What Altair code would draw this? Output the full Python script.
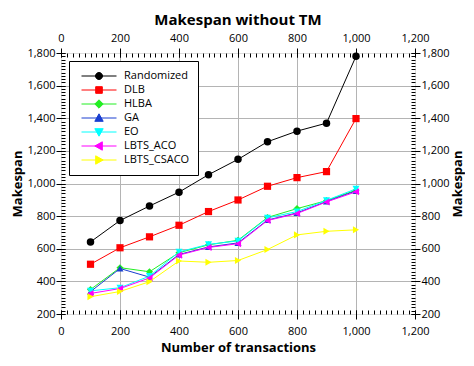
import altair as alt
import pandas as pd

# ---------------- data ----------------
transactions = [100, 200, 300, 400, 500, 600, 700, 800, 900, 1000]
series_names = ["Randomized", "DLB", "HLBA", "GA", "EO", "LBTS_ACO", "LBTS_CSACO"]
randomized = [642, 773, 862, 947, 1054, 1148, 1256, 1321, 1370, 1780]
dlb = [505, 606, 673, 744, 828, 899, 983, 1036, 1073, 1398]
hlba = [350, 484, 459, 576, 624, 652, 792, 846, 895, 959]
ga = [337, 479, 426, 565, 611, 636, 776, 820, 890, 955]
eo = [342, 361, 432, 581, 627, 648, 789, 828, 897, 967]
lbts_aco = [326, 356, 421, 561, 608, 631, 773, 816, 887, 949]
lbts_csaco = [306, 338, 398, 525, 517, 528, 595, 685, 707, 716]
values = [randomized, dlb, hlba, ga, eo, lbts_aco, lbts_csaco]

x_ticks = [0, 200, 400, 600, 800, 1000, 1200]
y_ticks = [200, 400, 600, 800, 1000, 1200, 1400, 1600, 1800]
x_minor = list(range(0, 1201, 20))
y_minor = list(range(200, 1801, 20))

# ---------------- styles ----------------
colors = ["#000000", "#ff0000", "#22ee22", "#1a3fd0", "#00ffff", "#ff00ff", "#ffff00"]
shapes = ["circle", "square", "diamond", "triangle-up", "triangle-down", "triangle-left", "triangle-right"]
sizes = [56, 52, 50, 50, 50, 50, 50]
# legend glyphs: a line segment with the marker in the middle
legend_paths = [
    "M-1,0H1M0.2,0A0.2,0.2 0 1,1 -0.2,0A0.2,0.2 0 1,1 0.2,0Z",
    "M-1,0H1M-0.19,-0.19H0.19V0.19H-0.19Z",
    "M-1,0H1M0,-0.24L0.24,0L0,0.24L-0.24,0Z",
    "M-1,0H1M0,-0.24L0.24,0.19L-0.24,0.19Z",
    "M-1,0H1M0,0.24L0.24,-0.19L-0.24,-0.19Z",
    "M-1,0H1M-0.24,0L0.19,-0.24L0.19,0.24Z",
    "M-1,0H1M0.24,0L-0.19,-0.24L-0.19,0.24Z",
]

FONT = "Open Sans"

rows = []
for name, vals in zip(series_names, values):
    for xv, yv in zip(transactions, vals):
        rows.append({"x": xv, "y": yv, "series": name})
df = pd.DataFrame(rows)

xs = alt.Scale(domain=[0, 1200], nice=False, zero=False)
ys = alt.Scale(domain=[200, 1800], nice=False, zero=False)

lab = dict(labelFont=FONT, labelFontSize=11, labelColor="black", tickColor="black",
           domain=False, grid=False, labelFlush=False, labelOverlap=False, format=",d")
ttl = dict(titleFont=FONT, titleFontSize=13, titleFontWeight="bold", titleColor="black")


def axis_layer(xaxis, yaxis):
    return alt.Chart(df).mark_point(opacity=0).encode(
        x=alt.X("x:Q", scale=xs, axis=xaxis),
        y=alt.Y("y:Q", scale=ys, axis=yaxis),
    )


grid_layer = axis_layer(
    alt.Axis(orient="bottom", values=x_ticks[1:-1], grid=True, gridColor="#b4b4b4", gridWidth=1,
             ticks=False, labels=False, domain=False, title=None),
    alt.Axis(orient="left", values=y_ticks[1:-1], grid=True, gridColor="#b4b4b4", gridWidth=1,
             ticks=False, labels=False, domain=False, title=None),
)
major_bl = axis_layer(
    alt.Axis(orient="bottom", values=x_ticks, offset=-4, tickSize=9, labelPadding=6,
             title="Number of transactions", titlePadding=5, **lab, **ttl),
    alt.Axis(orient="left", values=y_ticks, offset=-4, tickSize=9, labelPadding=1,
             title="Makespan", titlePadding=2, **lab, **ttl),
)
minor_bl = axis_layer(
    alt.Axis(orient="bottom", values=x_minor, labels=False, offset=-4, tickSize=4,
             tickColor="black", domain=False, grid=False, title=None),
    alt.Axis(orient="left", values=y_minor, labels=False, offset=-4, tickSize=4,
             tickColor="black", domain=False, grid=False, title=None),
)
major_tr = axis_layer(
    alt.Axis(orient="top", values=x_ticks, offset=-4, tickSize=9, labelPadding=5,
             title=None, **lab),
    alt.Axis(orient="right", values=y_ticks, offset=-4, tickSize=9, labelPadding=1,
             title="Makespan", titlePadding=2, titleAngle=270, titleBaseline="top", **lab, **ttl),
)
minor_tr = axis_layer(
    alt.Axis(orient="top", values=x_minor, labels=False, offset=-4, tickSize=4,
             tickColor="black", domain=False, grid=False, title=None),
    alt.Axis(orient="right", values=y_minor, labels=False, offset=-4, tickSize=4,
             tickColor="black", domain=False, grid=False, title=None),
)

series_layers = []
for name, col, shp, sz in zip(series_names, colors, shapes, sizes):
    base = alt.Chart(df).transform_filter(alt.datum.series == name)
    enc = dict(x=alt.X("x:Q", scale=xs, axis=None), y=alt.Y("y:Q", scale=ys, axis=None))
    series_layers.append(base.mark_line(color=col, strokeWidth=1).encode(**enc))
    series_layers.append(base.mark_point(shape=shp, filled=True, color=col, size=sz, opacity=1).encode(**enc))

leg = dict(title=None, orient="none", legendX=8, legendY=8, strokeColor="black", fillColor="white",
           padding=8, symbolSize=1225, clipHeight=14, symbolStrokeWidth=1, symbolOffset=4,
           labelOffset=7, labelFont=FONT, labelFontSize=11, labelColor="black", labelLimit=300,
           rowPadding=0, cornerRadius=0, labelExpr="datum.label + '       '")
legend_layer = alt.Chart(df).transform_filter("false").mark_point(filled=True, strokeWidth=1, opacity=1).encode(
    fill=alt.Fill("series:N", scale=alt.Scale(domain=series_names, range=colors), legend=alt.Legend(**leg)),
    stroke=alt.Stroke("series:N", scale=alt.Scale(domain=series_names, range=colors), legend=alt.Legend(**leg)),
    shape=alt.Shape("series:N", scale=alt.Scale(domain=series_names, range=legend_paths), legend=alt.Legend(**leg)),
)

chart = alt.layer(
    grid_layer, minor_bl, minor_tr, major_bl, major_tr, *series_layers, legend_layer
).resolve_axis(x="independent", y="independent").properties(
    width=354, height=261,
    title=alt.Title("Makespan without TM", font=FONT, fontSize=15, fontWeight="bold", color="black",
                    anchor="middle", offset=4),
    padding={"left": 3, "top": 5, "right": 0, "bottom": 0},
).configure_view(stroke="black", strokeWidth=1).configure(background="white")

chart.save("out.html", embed_options={"renderer": "svg", "actions": False})
